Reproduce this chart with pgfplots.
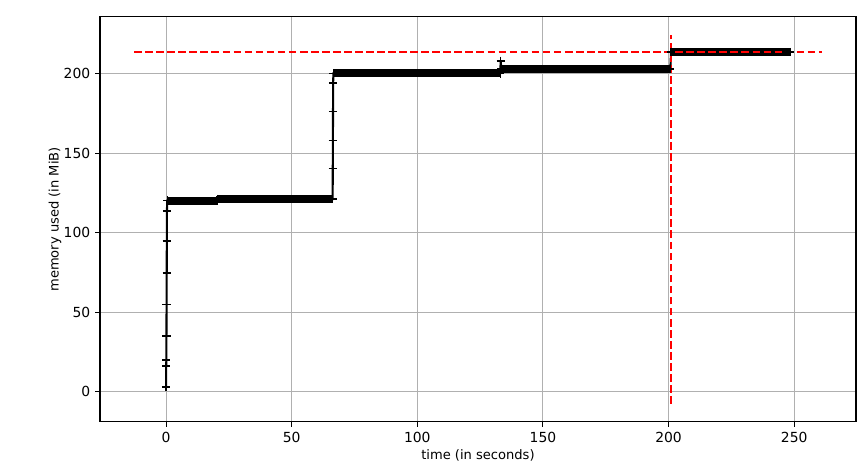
\documentclass[border=0pt]{standalone}
\usepackage{fontspec}
\setmainfont{DejaVu Sans}
\usepackage{pgfplots}
\pgfplotsset{compat=1.18}
\definecolor{gridgray}{RGB}{176,176,176}
\definecolor{mred}{RGB}{255,0,0}
\begin{document}
\begin{tikzpicture}
\path[use as bounding box] (-72pt,-32.4pt) rectangle (550.8pt,303.8pt);
\begin{axis}[
  at={(0,0)}, anchor=south west,
  scale only axis, width=544.3pt, height=291.6pt,
  xmin=-26.3, xmax=274.6, ymin=-18.9, ymax=235.8,
  xtick={0,50,100,150,200,250}, ytick={0,50,100,150,200},
  grid=major,
  grid style={color=gridgray, line width=0.8pt},
  axis line style={line width=0.8pt},
  tick style={line width=0.8pt, black},
  major tick length=3.5pt,
  tick align=outside, tick pos=left,
  ticklabel style={font=\fontsize{10}{12}\selectfont},
  /pgf/number format/assume math mode=true,
  xlabel={time (in seconds)}, ylabel={memory used (in MiB)},
  label style={font=\fontsize{9.4}{11}\selectfont},
  xlabel style={at={(axis description cs:0.5,-0.0835)}, anchor=center},
  ylabel style={at={(axis description cs:-0.0595,0.5)}, anchor=center},
  clip=false,
]
% dense sample bands
\addplot[black, line width=5.8pt, line cap=butt] coordinates {(0.45,120.3) (20.3,120.3)};
\addplot[black, line width=5.8pt, line cap=butt] coordinates {(20.4,121.3) (66.3,121.3)};
\addplot[black, line width=5.8pt, line cap=butt] coordinates {(66.6,200.3) (133.0,200.3)};
\addplot[black, line width=5.8pt, line cap=butt] coordinates {(133.4,203.1) (200.7,203.1)};
\addplot[black, line width=5.8pt, line cap=butt] coordinates {(201.0,213.8) (248.3,213.8)};
% samples
\addplot[black, line width=1.5pt, mark=+, mark size=3pt, mark options={line width=1pt, solid}] coordinates {
(0.00,3.1) (0.05,16.4) (0.10,20.1) (0.15,35.2) (0.20,54.9) (0.25,74.8) (0.30,95.0) (0.35,113.8)
(0.45,120.3) (20.3,120.3) (20.4,121.3) (66.3,121.3)
(66.35,140.3) (66.4,158.1) (66.45,176.3) (66.5,194.2)
(66.6,200.3) (133.0,200.3) (133.2,208.2) (133.4,203.1) (200.7,203.1)
(201.0,213.8) (248.3,213.8)
};
% max memory markers
\addplot[mred, line width=1.5pt, dash pattern=on 5.55pt off 2.4pt] coordinates {(-12.7,213.8) (261,213.8)};
\addplot[mred, line width=1.5pt, dash pattern=on 5.55pt off 2.4pt] coordinates {(201.0,-7.5) (201.0,224.5)};
\end{axis}
\end{tikzpicture}
\end{document}
